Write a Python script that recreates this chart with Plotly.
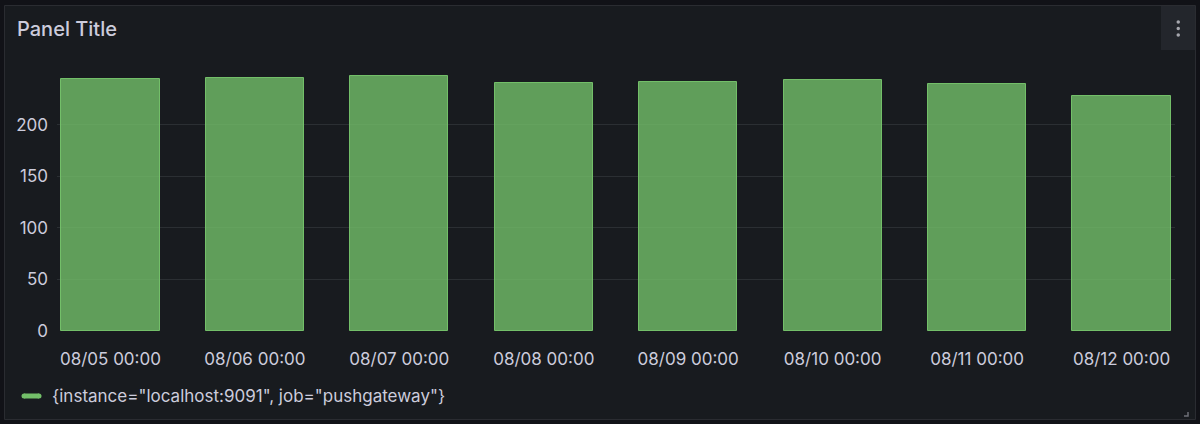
import plotly.graph_objects as go

# ---- data ----
categories = ["08/05 00:00", "08/06 00:00", "08/07 00:00", "08/08 00:00",
              "08/09 00:00", "08/10 00:00", "08/11 00:00", "08/12 00:00"]
values = [244.5, 245.5, 247.5, 241, 241.5, 243.5, 240, 228]
series_name = '{instance="localhost:9091", job="pushgateway"}'
y_ticks = [0, 50, 100, 150, 200]
panel_title = "Panel Title"

# ---- layout geometry (pixels) ----
W, H = 1200, 424
L, R, T, B = 57, 25, 60, 93
PW = W - L - R
PH = H - T - B

def px(x):
    return (x - L) / PW

def py(y):
    return (H - B - y) / PH

GREEN = "#73BF69"
TEXT = "#ccccdc"
FONT = "Inter, Roboto, sans-serif"

fig = go.Figure()
fig.add_trace(go.Bar(
    x=list(range(len(categories))), y=values, name=series_name,
    width=0.68,
    marker=dict(color="rgba(115,191,105,0.8)", line=dict(color=GREEN, width=1)),
    showlegend=False,
))

shapes = [
    # panel background
    dict(type="rect", xref="paper", yref="paper", layer="below",
         x0=px(4.5), x1=px(1195.5), y0=py(419.5), y1=py(5.5),
         fillcolor="#181b1f", line=dict(color="#2a2c31", width=1)),
    # menu button
    dict(type="rect", xref="paper", yref="paper", layer="above",
         x0=px(1161), x1=px(1195), y0=py(50), y1=py(6),
         fillcolor="#23262c", line=dict(width=0)),
    # legend swatch
    dict(type="line", xref="paper", yref="paper", layer="above",
         x0=px(24), x1=px(39), y0=py(396), y1=py(396),
         line=dict(color=GREEN, width=5)),
    dict(type="circle", xref="paper", yref="paper", layer="above",
         x0=px(21.5), x1=px(26.5), y0=py(398.5), y1=py(393.5),
         fillcolor=GREEN, line=dict(width=0)),
    dict(type="circle", xref="paper", yref="paper", layer="above",
         x0=px(36.5), x1=px(41.5), y0=py(398.5), y1=py(393.5),
         fillcolor=GREEN, line=dict(width=0)),
    # resize handle
    dict(type="path", xref="paper", yref="paper", layer="above",
         path=f"M {px(1184)},{py(416)} L {px(1188)},{py(416)} L {px(1188)},{py(412)}",
         line=dict(color="#6e7078", width=1.5)),
]
for dy in (22, 28.5, 35):
    shapes.append(dict(type="circle", xref="paper", yref="paper", layer="above",
                       x0=px(1176.5), x1=px(1180), y0=py(dy + 1.75), y1=py(dy - 1.75),
                       fillcolor="#a6a7ae", line=dict(width=0)))

annotations = [
    dict(text=panel_title, xref="paper", yref="paper", x=px(15), y=py(29),
         xanchor="left", yanchor="middle", showarrow=False,
         font=dict(family=FONT, size=20, color=TEXT, weight=500)),
    dict(text=series_name, xref="paper", yref="paper", x=px(50), y=py(396),
         xanchor="left", yanchor="middle", showarrow=False,
         font=dict(family=FONT, size=17, color=TEXT)),
]

fig.update_layout(
    width=W, height=H,
    margin=dict(l=L, r=R, t=T, b=B, pad=0),
    paper_bgcolor="#111217",
    plot_bgcolor="rgba(0,0,0,0)",
    shapes=shapes,
    annotations=annotations,
    bargap=0,
    xaxis=dict(
        tickmode="array", tickvals=list(range(len(categories))), ticktext=categories,
        range=[-0.37, 7.37], showgrid=False, zeroline=False, showline=False,
        ticks="", ticklabelstandoff=16,
        tickfont=dict(family=FONT, size=17, color=TEXT),
    ),
    yaxis=dict(
        range=[0, 263], tickvals=y_ticks, showgrid=True,
        gridcolor="rgba(240,250,255,0.09)", gridwidth=1,
        zeroline=False, showline=False, ticks="", ticklabelstandoff=8,
        tickfont=dict(family=FONT, size=17, color=TEXT),
    ),
)

fig.write_html("out.html", config={"displayModeBar": False},
               post_script="document.body.style.margin='0';document.body.style.background='#111217';")
